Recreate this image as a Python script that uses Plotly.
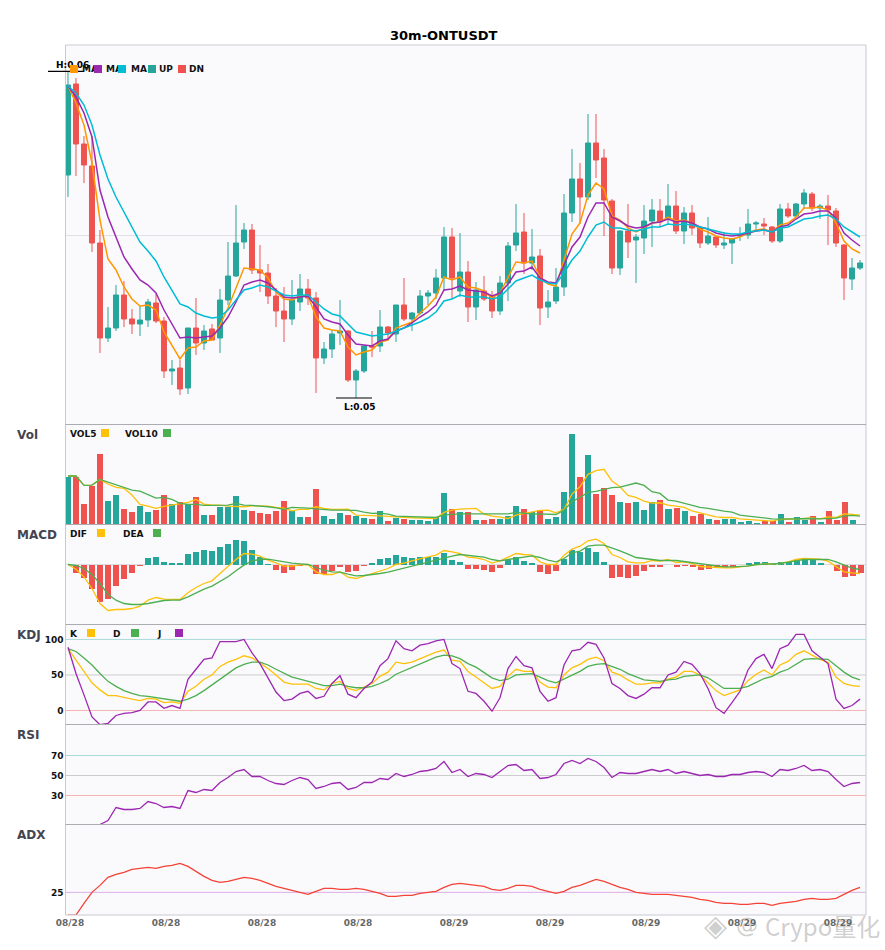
import plotly.graph_objects as go

TITLE = "30m-ONTUSDT"
PRICE_TICK = 1e-5   # prices below are in units of this tick

open_ = [5669,5942,5762,5696,5465,5180,5210,5309,5237,5222,5234,5285,5231,5081,5090,5030,5210,5165,5207,5180,
         5294,5366,5468,5504,5384,5375,5306,5261,5237,5288,5327,5300,5120,5147,5195,5201,5054,5081,5156,5156,
         5213,5192,5279,5237,5255,5306,5315,5360,5483,5321,5378,5273,5321,5306,5261,5345,5459,5498,5405,5426,
         5273,5291,5333,5555,5657,5603,5765,5720,5591,5390,5501,5474,5480,5531,5561,5540,5576,5501,5555,5510,
         5465,5483,5459,5465,5486,5489,5522,5522,5513,5471,5567,5546,5582,5612,5570,5576,5561,5459,5357,5390]
high = [5980,5960,5786,5786,5504,5273,5339,5351,5267,5276,5297,5312,5243,5114,5114,5210,5300,5219,5222,5327,
        5468,5579,5525,5522,5459,5402,5330,5333,5354,5372,5357,5318,5168,5204,5294,5204,5087,5156,5201,5264,
        5216,5279,5360,5258,5324,5324,5387,5513,5510,5495,5411,5348,5366,5321,5366,5468,5582,5555,5507,5447,
        5324,5390,5612,5747,5705,5852,5852,5747,5597,5504,5582,5492,5579,5597,5597,5642,5621,5573,5579,5516,
        5543,5486,5498,5480,5513,5567,5531,5540,5516,5582,5585,5585,5627,5618,5582,5609,5570,5462,5420,5414]
low = [5603,5666,5645,5438,5135,5168,5201,5213,5192,5186,5213,5225,5060,5039,5009,5012,5129,5144,5174,5135,
       5279,5363,5447,5372,5318,5282,5213,5168,5219,5261,5279,5015,5102,5120,5159,5048,5000,5075,5123,5138,
       5177,5168,5231,5201,5249,5279,5297,5321,5297,5303,5228,5234,5291,5240,5249,5291,5441,5372,5384,5219,
       5240,5282,5306,5528,5522,5594,5660,5486,5372,5369,5420,5345,5432,5453,5513,5522,5492,5462,5489,5450,
       5459,5450,5447,5402,5471,5477,5501,5489,5465,5465,5540,5543,5567,5561,5537,5459,5453,5294,5324,5384]
close = [5939,5762,5699,5465,5180,5210,5309,5237,5222,5234,5288,5231,5081,5087,5027,5210,5165,5201,5174,5294,
         5366,5465,5504,5384,5375,5306,5261,5237,5294,5327,5300,5120,5147,5192,5201,5054,5081,5156,5153,5213,
         5195,5279,5237,5255,5306,5315,5360,5483,5360,5378,5273,5324,5297,5261,5345,5456,5495,5405,5423,5270,
         5288,5333,5555,5657,5603,5765,5714,5594,5390,5501,5468,5483,5531,5564,5528,5576,5501,5555,5510,5465,
         5486,5459,5465,5477,5489,5522,5525,5516,5471,5567,5546,5582,5615,5570,5576,5564,5465,5360,5390,5405]

ma_fast = [5936,5885,5819,5705,5534,5417,5384,5333,5297,5276,5279,5264,5198,5159,5117,5150,5153,5171,5174,5219,
           5270,5330,5390,5387,5384,5360,5318,5297,5294,5306,5306,5243,5210,5204,5201,5153,5129,5138,5144,5168,
           5174,5210,5219,5228,5255,5276,5303,5363,5354,5363,5333,5330,5321,5300,5315,5360,5408,5405,5411,5363,
           5342,5336,5414,5492,5525,5609,5645,5627,5546,5534,5510,5498,5510,5525,5528,5543,5531,5534,5525,5507,
           5498,5486,5480,5477,5483,5495,5504,5507,5498,5519,5525,5543,5570,5570,5573,5564,5525,5471,5447,5435]
ma_mid = [5936,5903,5855,5783,5624,5543,5483,5423,5387,5354,5339,5315,5264,5222,5180,5183,5180,5183,5186,5210,
          5243,5288,5339,5348,5354,5345,5324,5303,5300,5303,5306,5273,5237,5228,5222,5189,5162,5159,5156,5171,
          5177,5201,5210,5225,5243,5258,5279,5324,5327,5336,5324,5321,5318,5306,5315,5342,5378,5381,5393,5360,
          5348,5345,5399,5453,5483,5543,5585,5585,5543,5531,5516,5510,5513,5525,5528,5537,5528,5531,5525,5513,
          5507,5495,5489,5486,5489,5495,5501,5504,5498,5513,5519,5537,5552,5555,5561,5561,5540,5495,5474,5456]
ma_slow = [5936,5915,5879,5819,5729,5657,5603,5558,5510,5468,5441,5411,5363,5324,5282,5273,5255,5246,5240,5243,
           5264,5294,5324,5330,5339,5333,5321,5309,5306,5309,5309,5288,5267,5252,5246,5222,5198,5192,5186,5189,
           5192,5201,5210,5219,5228,5240,5258,5291,5297,5309,5303,5303,5303,5297,5303,5327,5351,5360,5369,5354,
           5345,5342,5375,5414,5441,5483,5519,5528,5510,5510,5504,5501,5507,5513,5513,5522,5519,5522,5519,5513,
           5507,5501,5495,5492,5492,5498,5501,5504,5498,5510,5513,5525,5537,5540,5546,5549,5537,5513,5498,5483]

volume = [145,143,64,118,211,73,91,49,40,58,40,44,91,64,70,64,85,31,31,55,
          55,88,46,43,37,34,43,73,43,25,25,109,28,19,37,31,28,22,19,43,
          13,20,19,16,16,13,25,97,49,40,40,16,16,19,19,28,58,49,40,46,
          19,25,100,271,145,208,94,112,91,70,67,70,46,70,76,49,52,43,28,34,
          19,16,19,19,10,13,7,13,13,34,10,25,16,28,10,43,16,70,16,1]
vol5 = [145,145,117,118,135,121,111,108,88,60,55,48,54,58,61,66,75,61,58,58,
        55,53,53,56,56,55,51,49,41,45,45,53,48,45,45,46,28,28,28,26,
        24,22,21,20,19,18,18,36,43,46,48,48,31,25,22,18,28,33,36,42,
        43,35,45,91,113,150,161,165,130,113,87,81,70,64,65,58,55,51,41,35,
        29,23,21,21,17,15,13,13,10,15,17,17,18,20,17,23,21,32,30,28]
vol10 = [145,145,117,118,135,127,121,113,103,100,89,79,81,75,63,60,60,57,57,57,
         58,63,58,57,56,53,50,45,51,51,49,47,44,43,43,43,42,37,33,34,
         31,25,24,24,21,21,21,29,31,32,32,32,32,32,32,32,36,34,31,32,
         30,30,43,68,81,96,99,104,110,112,118,124,117,98,93,73,70,64,57,51,
         48,43,40,37,28,25,22,19,17,16,17,17,18,18,17,18,19,25,27,25]

macd_hist = [0,-23,-38,-71,-110,-101,-62,-41,-23,-2,22,25,10,7,4,34,40,46,43,55,
             64,76,73,46,25,3,-14,-23,-14,-1,0,-26,-28,-17,-5,-20,-17,-2,7,19,
             22,31,25,22,25,25,25,37,16,10,-11,-11,-14,-20,-8,16,25,13,7,-20,
             -26,-17,19,46,40,52,40,10,-38,-35,-38,-32,-17,-5,-5,0,-5,-2,-5,-14,
             -11,-8,-6,-6,0,7,10,10,2,10,10,14,16,14,7,0,-17,-35,-32,-23]
dif = [0,-14,-37,-72,-117,-138,-135,-135,-132,-125,-107,-99,-104,-105,-105,-85,-69,-57,-49,-27,
       -5,15,33,31,25,13,5,-5,-5,-1,0,-22,-30,-30,-22,-38,-42,-34,-27,-20,
       -12,0,4,11,18,23,28,42,38,33,22,20,15,4,11,21,33,30,28,8,
       0,0,28,46,55,71,76,63,30,21,8,5,5,12,10,15,6,8,3,-6,
       -8,-9,-10,-10,-7,-5,-1,2,2,3,8,15,18,18,16,10,-7,-22,-25,-27]
dea = [0,-3,-12,-30,-57,-89,-107,-117,-120,-120,-117,-112,-108,-107,-107,-97,-85,-74,-65,-52,
       -37,-19,-2,11,15,16,12,7,4,2,0,-9,-17,-22,-23,-29,-34,-33,-31,-27,
       -23,-17,-11,-5,3,8,13,21,25,30,28,26,22,15,11,15,19,24,26,21,
       13,8,18,35,40,55,58,58,50,41,31,21,18,15,12,12,12,9,6,3,
       0,-5,-7,-7,-7,-5,0,2,2,3,6,11,15,15,16,15,8,-2,-11,-15]

kdj_k = [87,71,55,39,29,21,21,18,16,14,17,16,11,12,10,27,34,44,50,62,
         68,72,77,74,67,59,50,40,37,37,37,31,29,38,41,31,28,33,38,48,
         54,68,66,68,73,78,82,85,71,69,55,47,39,31,34,48,58,55,55,40,
         33,32,50,60,65,72,75,70,54,50,43,37,37,39,39,44,47,55,55,50,
         39,28,21,25,29,42,51,57,50,64,69,79,84,78,72,68,47,38,35,34]
kdj_d = [87,83,74,64,52,41,34,28,24,21,20,18,16,15,13,16,21,28,36,45,
         53,60,65,68,68,64,58,52,47,44,41,38,35,35,37,34,32,32,34,38,
         43,51,56,61,65,70,75,78,77,73,66,61,53,46,42,44,50,51,52,47,
         42,39,44,50,55,62,65,66,62,58,52,47,43,42,41,43,44,48,49,50,
         46,38,31,31,31,34,39,45,48,54,58,65,72,73,73,72,63,54,47,43]
kdj_j = [89,52,22,-9,-20,-18,-7,-4,-3,0,12,12,3,7,3,44,58,72,74,97,
         97,97,100,81,66,45,26,14,16,24,27,17,20,38,49,23,18,31,40,63,
         73,98,87,84,92,94,98,100,66,59,27,24,13,-1,18,59,76,63,60,27,
         13,18,64,84,86,96,93,74,38,31,21,17,23,32,32,50,54,69,65,52,
         31,4,-4,11,27,57,73,79,59,87,92,107,107,84,75,66,16,3,7,16]

rsi = [None,None,None,None,1,5,18,16,16,17,24,22,18,19,17,35,33,36,35,43,
       48,54,56,49,49,45,42,41,45,48,46,37,39,42,43,36,38,43,43,47,
       46,52,49,51,54,55,57,64,53,56,49,52,51,48,54,60,61,55,56,47,
       48,51,62,65,62,67,64,58,48,53,52,52,54,56,54,56,52,54,52,50,
       51,49,49,51,51,53,54,53,49,56,55,57,60,55,56,54,46,39,42,43]
adx = [2.3,2.3,14,25,32,40,43,45,48,49,50,49,51,52,54,51,46,41,37,35,
       36,38,40,39,37,34,31,29,27,25,23,26,29,29,28,28,29,28,26,24,
       21,21,22,22,24,25,26,30,33,34,33,32,31,28,27,29,32,32,31,28,
       26,24,26,30,32,35,38,36,33,30,28,25,24,23,23,23,22,21,20,18,
       17,15,14,14,13,13,14,14,12,14,15,16,18,19,18,18,19,23,27,30]

tick_index = [0,12,24,36,48,60,72,84,96]
tick_text = ["08/28","08/28","08/28","08/28","08/29","08/29","08/29","08/29","08/29"]

for arr in (open_,high,low,close,ma_fast,ma_mid,ma_slow,volume,vol5,vol10,macd_hist,dif,dea,kdj_k,kdj_d,kdj_j,rsi,adx):
    assert len(arr)==100, len(arr)

W,H = 885,950
UP,DN = "#26A69A","#EF5350"
xs = list(range(len(close)))
FONT = "DejaVu Sans"

panes = [(45,424.5),(424.5,524.5),(524.5,624.5),(624.5,724.5),(724.5,824.5),(824.5,915)]
ranges = [[4920.5,6059],[0,299],[-180,120],[-19.7,121],[1,101],[2.33,93]]
px_x = lambda p: p/W
px_y = lambda p: 1-p/H
X_MIN,X_MAX = -0.31,99.75
idx_to_paper = lambda i: px_x(65.5+(i-X_MIN)*(866-65.5)/(X_MAX-X_MIN))

fig = go.Figure()
fig.add_trace(go.Candlestick(x=xs,open=open_,high=high,low=low,close=close,whiskerwidth=0,
    increasing=dict(line=dict(color=UP,width=1),fillcolor=UP),
    decreasing=dict(line=dict(color=DN,width=1),fillcolor=DN),xaxis="x",yaxis="y",showlegend=False))
for s,c in ((ma_fast,"#FF9800"),(ma_mid,"#9C27B0"),(ma_slow,"#00BCD4")):
    fig.add_trace(go.Scatter(x=xs,y=s,mode="lines",line=dict(color=c,width=1.5),xaxis="x",yaxis="y"))

hi_i = high.index(max(high)); lo_i = low.index(min(low))

bar_colors = [UP if c>=o else DN for o,c in zip(open_,close)]
fig.add_trace(go.Bar(x=xs,y=volume,width=0.75,marker=dict(color=bar_colors,line_width=0),xaxis="x2",yaxis="y2"))
for s,c in ((vol5,"#FFC107"),(vol10,"#4CAF50")):
    fig.add_trace(go.Scatter(x=xs,y=s,mode="lines",line=dict(color=c,width=1.3),xaxis="x2",yaxis="y2"))

fig.add_trace(go.Bar(x=xs,y=macd_hist,width=0.75,marker=dict(color=[UP if v>=0 else DN for v in macd_hist],line_width=0),xaxis="x3",yaxis="y3"))
for s,c in ((dif,"#FFC107"),(dea,"#4CAF50")):
    fig.add_trace(go.Scatter(x=xs,y=s,mode="lines",line=dict(color=c,width=1.3),xaxis="x3",yaxis="y3"))

for s,c in ((kdj_k,"#FFC107"),(kdj_d,"#4CAF50"),(kdj_j,"#9C27B0")):
    fig.add_trace(go.Scatter(x=xs,y=s,mode="lines",line=dict(color=c,width=1.3),xaxis="x4",yaxis="y4"))
fig.add_trace(go.Scatter(x=xs,y=rsi,mode="lines",line=dict(color="#9C27B0",width=1.3),xaxis="x5",yaxis="y5"))
fig.add_trace(go.Scatter(x=xs,y=adx,mode="lines",line=dict(color="#F44336",width=1.3),xaxis="x6",yaxis="y6"))

layout = dict(width=W,height=H,margin=dict(l=0,r=0,t=0,b=0,autoexpand=False),autosize=False,
              paper_bgcolor="#fff",plot_bgcolor="#FAFAFD",showlegend=False,boxgap=0.375,boxgroupgap=0,bargap=0,
              font=dict(family=FONT))
for n,((top,bot),rng) in enumerate(zip(panes,ranges),start=1):
    sfx = "" if n==1 else str(n)
    xa = dict(domain=[px_x(65.5),px_x(866)],range=[X_MIN,X_MAX],anchor=f"y{sfx}",showgrid=False,zeroline=False,
              showline=False,ticks="",rangeslider=dict(visible=False),showticklabels=False,type="linear")
    if n>1: xa["matches"]="x"
    ya = dict(domain=[px_y(bot),px_y(top)],range=rng,anchor=f"x{sfx}",showgrid=False,zeroline=False,
              showline=False,ticks="",showticklabels=False,fixedrange=True)
    layout[f"xaxis{sfx}"]=xa; layout[f"yaxis{sfx}"]=ya
layout["xaxis6"].update(showticklabels=True,tickmode="array",tickvals=tick_index,ticktext=tick_text,
                        tickfont=dict(family=FONT,size=9,color="#666666",weight="bold"),ticklabelstandoff=1,ticklabelshift=2)
tf = dict(family=FONT,size=9,color="#111111",weight="bold")
layout["yaxis4"].update(showticklabels=True,tickmode="array",tickvals=[0,50,100],ticktext=["0","50","100"],tickfont=tf,ticklabelstandoff=1)
layout["yaxis5"].update(showticklabels=True,tickmode="array",tickvals=[30,50,70],ticktext=["30","50","70"],tickfont=tf,ticklabelstandoff=1)
layout["yaxis6"].update(showticklabels=True,tickmode="array",tickvals=[25],ticktext=["25"],tickfont=tf,ticklabelstandoff=1)
fig.update_layout(**layout)

refs = [("y",5487.5,"#E0E0E6"),("y3",0,"#DCDCE0"),("y4",100,"#A8DAD8"),("y4",50,"#CCCCCC"),("y4",0,"#F6B5B5"),
        ("y5",70,"#A8DAD8"),("y5",50,"#CCCCCC"),("y5",30,"#F6B5B5"),("y6",25,"#DDB0E8")]
shapes=[]
for yr,v,c in refs:
    shapes.append(dict(type="line",xref="paper",yref=yr,x0=px_x(65.5),x1=px_x(866),y0=v,y1=v,line=dict(color=c,width=1),layer="below"))
frame_c="#C9C9D2"; div_c="#ABABB2"
shapes.append(dict(type="line",xref="paper",yref="paper",x0=px_x(65.5),x1=px_x(65.5),y0=px_y(45),y1=px_y(915),line=dict(color=frame_c,width=1)))
shapes.append(dict(type="line",xref="paper",yref="paper",x0=px_x(866),x1=px_x(866),y0=px_y(45),y1=px_y(915),line=dict(color=frame_c,width=1)))
shapes.append(dict(type="line",xref="paper",yref="paper",x0=px_x(65.5),x1=px_x(866),y0=px_y(45),y1=px_y(45),line=dict(color=frame_c,width=1)))
shapes.append(dict(type="line",xref="paper",yref="paper",x0=px_x(65.5),x1=px_x(866),y0=px_y(915),y1=px_y(915),line=dict(color=frame_c,width=1)))
for p in (424.5,524.5,624.5,724.5,824.5):
    shapes.append(dict(type="line",xref="paper",yref="paper",x0=px_x(65.5),x1=px_x(866),y0=px_y(p),y1=px_y(p),line=dict(color=div_c,width=1)))
# high / low marker rules, placed from the data
for i,v in ((hi_i,max(high)),(lo_i,min(low))):
    shapes.append(dict(type="line",xref="paper",yref="y",x0=idx_to_paper(i-2.5),x1=idx_to_paper(i+2),y0=v,y1=v,line=dict(color="#000",width=1.2)))
fig.update_layout(shapes=shapes)

def text(x,y,t,size=9,color="#111",anchor="left",bold=True,family=FONT):
    f=dict(family=family,size=size,color=color)
    if bold: f["weight"]="bold"
    fig.add_annotation(xref="paper",yref="paper",x=px_x(x),y=px_y(y),text=t,showarrow=False,xanchor=anchor,yanchor="middle",font=f,borderpad=0,borderwidth=0)
def square(x,y,c):
    fig.add_annotation(xref="paper",yref="paper",x=px_x(x),y=px_y(y),text=" ",showarrow=False,xanchor="center",yanchor="middle",
                       width=8,height=8,bgcolor=c,font=dict(size=1),borderpad=0,borderwidth=0)

text(444,35,TITLE,size=13,color="#000",anchor="center")
for t,y in (("Vol",435),("MACD",535),("KDJ",635),("RSI",735),("ADX",835)):
    text(17,y,t,size=12,color="#444450")

fig.add_annotation(xref="x",yref="y",x=hi_i+0.56,y=max(high),text=f"H:{max(high)*PRICE_TICK:.2f}",showarrow=False,yshift=6,
                   font=dict(family=FONT,size=9,color="#000",weight="bold"),borderpad=0)
fig.add_annotation(xref="x",yref="y",x=lo_i+0.5,y=min(low),text=f"L:{min(low)*PRICE_TICK:.2f}",showarrow=False,yshift=-9,
                   font=dict(family=FONT,size=9,color="#000",weight="bold"),borderpad=0)
for x,t in ((81.5,"MA"),(105.5,"MA"),(131,"MA"),(159,"UP"),(189,"DN")):
    text(x,69,t)
for x,c in ((74,"#FF9800"),(98,"#9C27B0"),(122,"#00BCD4"),(152,UP),(182,DN)):
    square(x,69,c)

for x,t in ((70,"VOL5"),(125,"VOL10")): text(x,433.5,t)
for x,c in ((105,"#FFC107"),(167,"#4CAF50")): square(x,433,c)
for x,t in ((70,"DIF"),(123,"DEA")): text(x,533.5,t)
for x,c in ((101,"#FFC107"),(157,"#4CAF50")): square(x,533,c)
for x,t in ((70,"K"),(113,"D"),(157,"J")): text(x,633.5,t)
for x,c in ((91,"#FFC107"),(135,"#4CAF50"),(179,"#9C27B0")): square(x,633,c)

WM = "rgba(130,130,130,0.40)"
text(704,925,"◈",size=30,color=WM,bold=False)
text(736,925,"@",size=22,color=WM,bold=False)
text(765,925,"Crypo量化",size=24,color=WM,bold=False,family="Noto Sans CJK SC")

fig.write_html("out.html",config=dict(displayModeBar=False),post_script="document.body.style.margin='0';")
